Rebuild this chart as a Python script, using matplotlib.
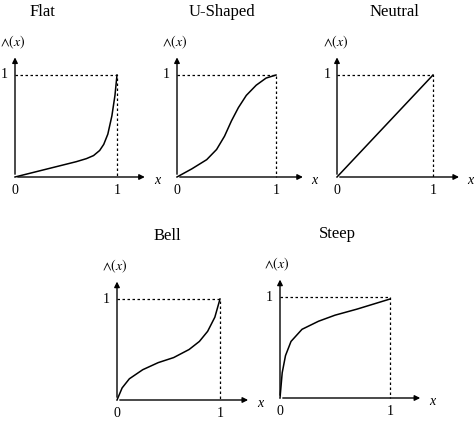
import matplotlib.pyplot as plt

plt.rcParams['font.family'] = ['Liberation Serif', 'DejaVu Serif']
plt.rcParams['mathtext.fontset'] = 'stix'

titles = ["Flat", "U-Shaped", "Neutral", "Bell", "Steep"]
flat_x = [0, 0.2, 0.4, 0.6, 0.7, 0.77, 0.83, 0.87, 0.91, 0.95, 0.98, 1]
flat_y = [0, 0.05, 0.1, 0.15, 0.18, 0.21, 0.26, 0.32, 0.42, 0.6, 0.8, 1]
ushape_x = [0, 0.15, 0.3, 0.4, 0.48, 0.55, 0.62, 0.7, 0.8, 0.9, 1]
ushape_y = [0, 0.08, 0.17, 0.27, 0.4, 0.55, 0.68, 0.8, 0.9, 0.97, 1]
neutral_x = [0, 1]
neutral_y = [0, 1]
bell_x = [0, 0.05, 0.12, 0.25, 0.4, 0.55, 0.7, 0.8, 0.88, 0.95, 1]
bell_y = [0, 0.12, 0.21, 0.3, 0.37, 0.42, 0.5, 0.58, 0.68, 0.82, 1]
steep_x = [0, 0.02, 0.05, 0.1, 0.2, 0.35, 0.5, 0.7, 0.85, 1]
steep_y = [0, 0.25, 0.42, 0.56, 0.68, 0.76, 0.82, 0.88, 0.93, 0.98]
curves = [(flat_x, flat_y), (ushape_x, ushape_y), (neutral_x, neutral_y),
          (bell_x, bell_y), (steep_x, steep_y)]
# origin pixel (x, y from top), unit width, unit height, title x
panels = [(15, 177, 102, 102, 0.27), (177, 177, 99, 102, 0.45),
          (337, 177, 96, 102, 0.6), (117, 400, 103, 101, 0.49),
          (280, 398, 110, 101, 0.52)]

W, H = 474, 423
fig = plt.figure(figsize=(W / 100, H / 100), dpi=100)

for title, (cx, cy), (ox, oy, w, h, tx) in zip(titles, curves, panels):
    left = (ox - 0.15 * w) / W
    bottom = (H - (oy + 0.2 * h)) / H
    ax = fig.add_axes([left, bottom, 1.55 * w / W, 1.55 * h / H])
    ax.set_xlim(-0.15, 1.4)
    ax.set_ylim(-0.2, 1.35)
    ax.axis('off')
    ax.annotate("", xy=(1.3, 0), xytext=(0, 0),
                arrowprops=dict(arrowstyle="-|>", color="black", lw=1, mutation_scale=8))
    ax.annotate("", xy=(0, 1.2), xytext=(0, 0),
                arrowprops=dict(arrowstyle="-|>", color="black", lw=1, mutation_scale=8))
    ax.plot([0, 1, 1], [1, 1, 0], ls=(0, (2, 2)), color="black", lw=0.9)
    ax.plot(cx, cy, color="black", lw=1.1)
    ax.text(0, -0.07, "0", ha="center", va="top", fontsize=10)
    ax.text(1, -0.07, "1", ha="center", va="top", fontsize=10)
    ax.text(-0.07, 1, "1", ha="right", va="center", fontsize=10)
    ax.text(1.36, -0.03, "x", ha="left", va="center", fontsize=10, style="italic")
    ax.text(-0.15, 1.24, r"$\wedge(x)$", ha="left", va="bottom", fontsize=10,
            clip_on=False)
    ax.text(tx, 1.62, title, ha="center", va="center", fontsize=12, clip_on=False)

fig.savefig("out.png", dpi=100)
